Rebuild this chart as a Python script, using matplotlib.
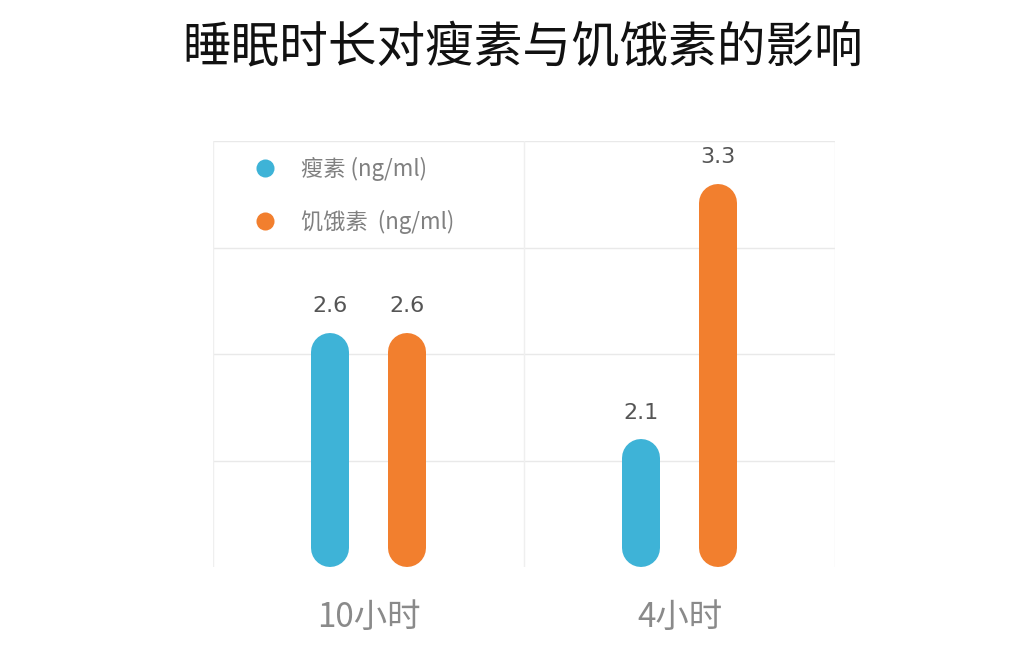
import matplotlib
matplotlib.use("Agg")
import matplotlib.pyplot as plt
from matplotlib.lines import Line2D

plt.rcParams['font.family'] = ['Noto Sans CJK SC', 'DejaVu Sans']

title = "睡眠时长对瘦素与饥饿素的影响"
categories = ["10小时", "4小时"]
series_names = ["瘦素 (ng/ml)", "饥饿素  (ng/ml)"]
leptin = [2.6, 2.1]
ghrelin = [2.6, 3.3]
colors = ["#3EB3D7", "#F27F2E"]

W, H = 1024, 652
fig = plt.figure(figsize=(W / 100, H / 100), dpi=100)
left, right, bottom, top = 213, 835, 567, 141
ax = fig.add_axes([left / W, (H - bottom) / H, (right - left) / W, (bottom - top) / H])

ymin, ymax = 1.5, 3.5
ax.set_xlim(-0.5, len(categories) - 0.5)
ax.set_ylim(ymin, ymax)

px_per_y = (bottom - top) / (ymax - ymin)
bar_px = 38
r = (bar_px / 2) / px_per_y
lw_pt = bar_px * 72 / 100

offset = 0.124
for si, (vals, col) in enumerate(zip([leptin, ghrelin], colors)):
    for ci, v in enumerate(vals):
        xc = ci + (-offset if si == 0 else offset)
        ax.plot([xc, xc], [ymin + r, v - r], color=col, lw=lw_pt,
                solid_capstyle='round', zorder=3, clip_on=False)
        ax.annotate(f"{v}", (xc, v), xytext=(0, 12), textcoords='offset points',
                    ha='center', va='bottom', fontsize=16, color='#555555',
                    family=['DejaVu Sans'])

# grid
for y in [2.0, 2.5, 3.0, 3.5]:
    ax.axhline(y, color='#e9e9e9', lw=1, zorder=1)
for x in [-0.5, 0.5, 1.5]:
    ax.axvline(x, color='#efefef', lw=1, zorder=1)

for s in ax.spines.values():
    s.set_visible(False)
ax.set_yticks([])
ax.set_xticks(range(len(categories)))
ax.set_xticklabels(categories, fontsize=24, color='#8a8a8a')
ax.tick_params(axis='x', length=0, pad=24)

handles = [Line2D([], [], marker='o', ls='none', markersize=13, markerfacecolor=c,
                  markeredgecolor='none') for c in colors]
leg = ax.legend(handles, series_names, loc='upper left', bbox_to_anchor=(0.016, 1.01),
                frameon=False, fontsize=16, labelcolor='#808080', handletextpad=0.6,
                labelspacing=1.3)

fig.text(523 / W, 1 - 49 / H, title, ha='center', va='center', fontsize=35, color='#111111')

fig.savefig("out.png", dpi=100)
